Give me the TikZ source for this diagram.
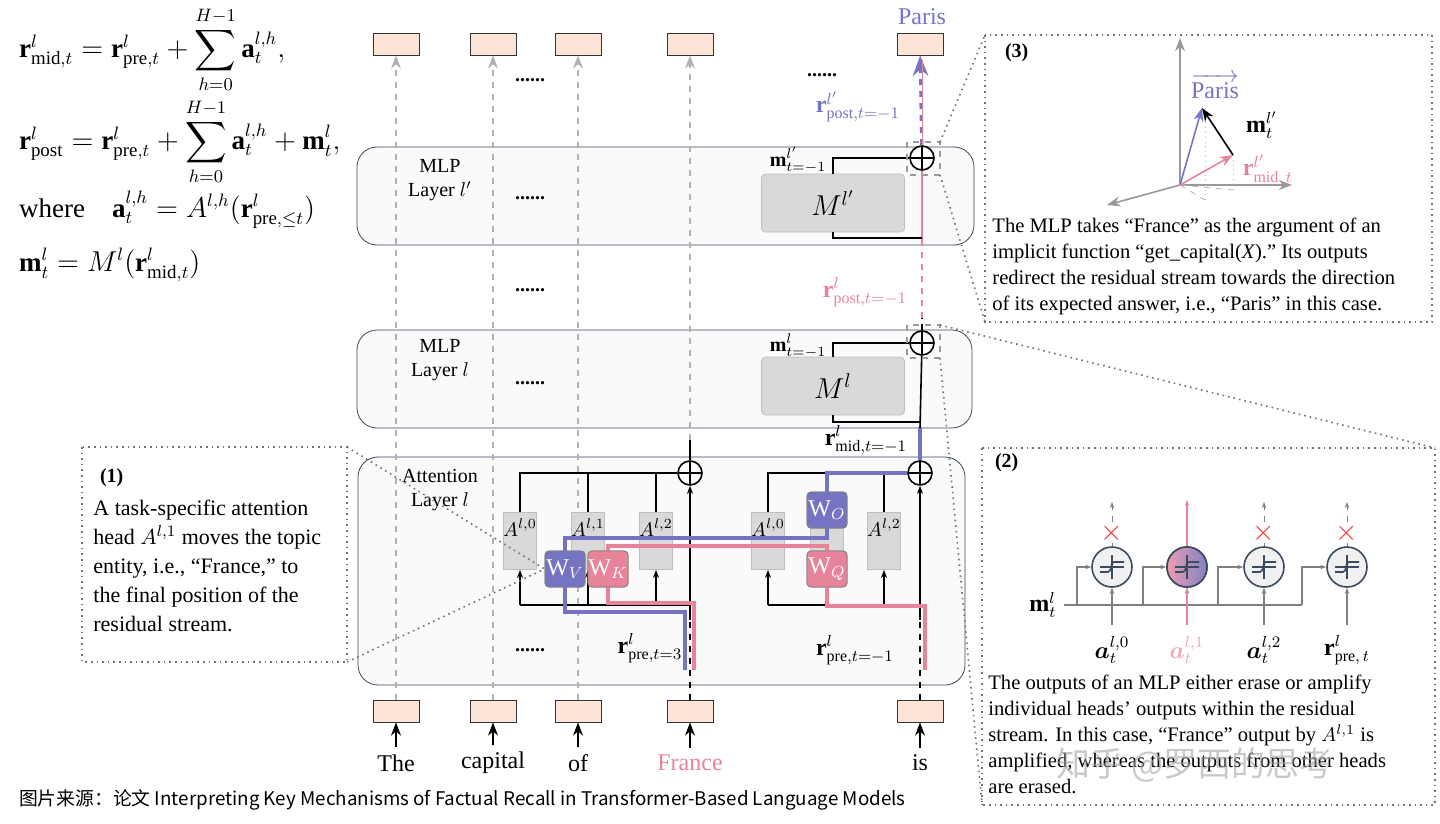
\documentclass[tikz,border=0pt]{standalone}
\usepackage{amsmath}
\usepackage{bm}
\usepackage{fontspec}
\setmainfont{Liberation Serif}
\newfontfamily\cjk{Noto Sans CJK SC}
\usepackage{tikz}
\usetikzlibrary{positioning,calc,arrows.meta}
\definecolor{vio}{HTML}{7474C2}
\definecolor{pnk}{HTML}{E8849A}
\definecolor{tok}{HTML}{FCE4D6}
\definecolor{edge}{HTML}{3C4A60}
\tikzstyle{token}=[rectangle, draw=black!80, fill=tok, minimum width=23pt, minimum height=11pt, inner sep=0pt]
\tikzstyle{layer}=[draw=edge, fill=black!2, rounded corners=10pt]
\tikzstyle{head}=[rectangle, draw=black!25, fill=black!15, minimum width=16.5pt, minimum height=28.5pt, inner sep=0pt, anchor=center]
\tikzstyle{wbox}=[rectangle, rounded corners=2pt, draw=black!50, minimum width=20pt, minimum height=18pt, inner sep=0pt, text=white, font=\large]
\tikzstyle{mbox}=[rectangle, rounded corners=2pt, draw=black!25, fill=black!15, minimum width=71.5pt, minimum height=29pt]
\tikzstyle{plus}=[circle, draw, thick, minimum size=12pt, inner sep=0pt, fill=white,
  path picture={\draw[thick] (path picture bounding box.north)--(path picture bounding box.south)
    (path picture bounding box.west)--(path picture bounding box.east);}]
\tikzstyle{sig}=[circle, draw=edge, thick, fill=black!6, minimum size=20pt, inner sep=0pt,
  path picture={\draw[edge,thick] ($(path picture bounding box.center)+(-6pt,-2.5pt)$) -- ++(4pt,0)
    .. controls ++(2pt,0) and ++(-2pt,0) .. ++(3pt,5pt) -- ++(5pt,0);
    \draw[edge] ($(path picture bounding box.center)+(0,-6pt)$) -- ++(0,12pt)
    ($(path picture bounding box.center)+(-6pt,0)$) -- ++(12pt,0);}]
\tikzstyle{gdash}=[black!30, thick, dashed]
\tikzstyle{zoomline}=[black!55, thick, dotted]
\tikzstyle{panel}=[black!55, thick, dotted]
\tikzstyle{ptext}=[align=left, anchor=north west, inner sep=0pt, font=\fontsize{10.3}{13}\selectfont]
\tikzstyle{lab}=[font=\large]
\tikzstyle{eq}=[anchor=west, font=\fontsize{13.5}{16}\selectfont]
\begin{document}
\begin{tikzpicture}[x=0.5pt, y=-0.5pt]
\useasboundingbox[fill=white] (0,0) rectangle (1440,824);
% formulas
\node[eq] (f1) at (12,50) {$\mathbf{r}^l_{\mathrm{mid},t}=\mathbf{r}^l_{\mathrm{pre},t}+\displaystyle\sum_{h=0}^{H-1}\mathbf{a}_t^{l,h},$};
\node[eq] (f2) at (12,142) {$\mathbf{r}^l_{\mathrm{post}}=\mathbf{r}^l_{\mathrm{pre},t}+\displaystyle\sum_{h=0}^{H-1}\mathbf{a}_t^{l,h}+\mathbf{m}^l_t,$};
\node[eq] (f3) at (12,210) {where\quad $\mathbf{a}_t^{l,h}=A^{l,h}(\mathbf{r}^l_{\mathrm{pre},\leq t})$};
\node[eq] (f4) at (12,265) {$\mathbf{m}^l_t=M^l(\mathbf{r}^l_{\mathrm{mid},t})$};
% layers
\draw[layer] (357,147) rectangle (974,245);
\draw[layer] (357,330) rectangle (972,428);
\draw[layer] (358,457) rectangle (965,685);
\node[align=center] (lp) at (440,180) {MLP\\Layer $l'$};
\node[align=center] (ll) at (440,360) {MLP\\Layer $l$};
\node[align=center] (la) at (440,490) {Attention\\Layer $l$};
\foreach \y in {80,198,290,383,650} \node[font=\bfseries] at (530,\y) {......};
\node[font=\bfseries] (dt) at (822,75) {......};
% tokens
\foreach \x/\w/\n in {396/The/a,493/capital/b,578/of/c,690/France/d,920/is/e}{
  \node[token] (in\n) at (\x,711) {};
  \node[token] (out\n) at (\x,44) {};
  \node[font=\fontsize{12}{14}\selectfont] (w\n) at (\x,763) {\w};
  \draw[-{Stealth}, thick] (w\n) -- (in\n);
}
\node[font=\fontsize{12}{14}\selectfont, text=vio] (paris) at (922,17) {Paris};
\path (wd) node[fill=white, font=\fontsize{12}{14}\selectfont, text=pnk] {France};
\foreach \n in {a,b,c} \draw[gdash, -{Stealth}] (in\n) -- (out\n);
% attention heads
\node[plus] (pa) at (690,473) {};
\node[plus] (pb) at (920,473) {};
\coordinate (bl) at (690,605);
\coordinate (br) at (920,605);
\foreach \x/\k/\n in {520/0/l0,588/1/l1,656/2/l2,768/0/r0,827/1/r1,884/2/r2}
  \node[head] (h\n) at (\x,541) {};
\foreach \n/\k in {l0/0,l1/1,l2/2,r0/0,r2/2}
  \node[anchor=north] at (h\n.north) {$A^{l,\k}$};
\draw[thick] (hl0.north) |- (pa);
\draw[thick] (hr0.north) |- (pb);
\foreach \n in {l1,l2} \draw[thick] (h\n.north) -- (h\n.north |- pa);
\draw[thick] (hr2.north) -- (hr2.north |- pb);
\draw[thick] (hl0.south |- bl) -- (bl);
\draw[thick] (hr0.south |- br) -- (br);
\foreach \n in {l0,l1,l2,r0,r2} \draw[thick, -{Stealth[length=4pt]}] (h\n.south |- bl) -- (h\n.south);
\draw[thick, dashed] (ind) -- (690,620);
\draw[thick, -{Stealth[length=4pt]}] (690,620) -- (pa);
\draw[thick, dashed] (ine) -- (920,620);
\draw[thick, -{Stealth[length=4pt]}] (920,620) -- (pb);
\draw[thick] (pa) -- (690,440);
\draw[gdash, -{Stealth}] (690,440) -- (outd);
% value / key / query / output paths
\node[wbox, fill=vio] (WV) at (565,569) {W$_V$};
\node[wbox, fill=pnk] (WK) at (608,569) {W$_K$};
\node[wbox, fill=vio] (WO) at (827,510) {W$_O$};
\node[wbox, fill=pnk] (WQ) at (827,569) {W$_Q$};
\begin{scope}[line width=2pt]
\draw[vio] (685,670) |- (WV.south |- 0,612) -- (WV.south);
\draw[vio] (WV.north) -- (565,538) -- (827,538) -- (WO.south);
\draw[vio] (WO.north) |- (pb.west);
\draw[vio] (pb.north) -- (920,428);
\draw[pnk] (694,670) |- (WK.south |- 0,603) -- (WK.south);
\draw[pnk] (WK.north) -- (608,546) -- (827,546) -- (WQ.north);
\draw[pnk] (WQ.south) |- (925,606) -- (925,670);
\end{scope}
\node[wbox, fill=vio] at (WV) {W$_V$};
\node[wbox, fill=pnk] at (WK) {W$_K$};
\node[wbox, fill=vio] at (WO) {W$_O$};
\node[wbox, fill=pnk] at (WQ) {W$_Q$};
\node[lab] (rl) at (650,648) {$\mathbf{r}^l_{\mathrm{pre},t=3}$};
\node[lab] (rr) at (855,650) {$\mathbf{r}^l_{\mathrm{pre},t=-1}$};
\node[lab] (rm) at (866,440) {$\mathbf{r}^l_{\mathrm{mid},t=-1}$};
% MLP layer l
\node[mbox] (Ml) at (833,386) {\Large $M^l$};
\node[plus] (pl) at (922,343) {};
\draw[thick] (920,428) -- (pl);
\draw[thick] (920,422) -| (Ml.south);
\draw[thick] (Ml.north) |- (pl);
\node (ml) at (798,346) {$\mathbf{m}^l_{t=-1}$};
\draw[thick, dashed] (pl) -- (922,318);
\draw[pnk, thick, dashed] (922,318) -- (922,245);
\node[lab, text=pnk] (rpl) at (865,292) {$\mathbf{r}^l_{\mathrm{post},t=-1}$};
% MLP layer l'
\node[mbox] (Mp) at (833,203) {\Large $M^{l'}$};
\node[plus] (pp) at (922,158) {};
\draw[pnk, thick] (922,245) -- (pp);
\draw[thick] (922,238) -| (Mp.south);
\draw[thick] (Mp.north) |- (pp);
\node (mp) at (798,160) {$\mathbf{m}^{l'}_{t=-1}$};
\draw[vio, line width=1.6pt, dashed, -{Stealth}] (pp) -- (oute);
\draw[pnk, thin] (pp) -- (922,60);
\node[lab, text=vio] (rpp) at (858,107) {$\mathbf{r}^{l'}_{\mathrm{post},t=-1}$};
% zoom marks
\draw[black!40, thick, dashed] (907,142) rectangle (940,175);
\draw[black!40, thick, dashed] (907,325) rectangle (940,358);
\draw[zoomline] (940,142) -- (985,35);
\draw[zoomline] (940,175) -- (985,322);
\draw[zoomline] (940,325) -- (1435,448);
\draw[zoomline] (940,358) -- (982,805);
\draw[zoomline] (347,447) -- (WV.west);
\draw[zoomline] (347,662) -- (WV.west);
% panel (1)
\draw[panel, fill=white] (82,447) rectangle (347,662);
\node[anchor=west, font=\bfseries] (n1) at (93,478) {(1)};
\node[ptext, font=\fontsize{11}{14.5}\selectfont] (t1) at (93,500) {A task-specific attention\\head $A^{l,1}$ moves the topic\\entity, i.e., ``France,'' to\\the final position of the\\residual stream.};
% panel (3)
\draw[panel] (985,35) rectangle (1432,322);
\node[anchor=west, font=\bfseries] (n3) at (998,53) {(3)};
\coordinate (o) at (1180,185);
\draw[black!40, thick, -{Stealth}] (o) -- (1180,38);
\draw[black!40, thick, -{Stealth}] (o) -- (1292,185);
\draw[black!40, thick, -{Stealth}] (o) -- (1107,205);
\draw[black!30, dotted] (1205,108) -- (1205,200) (1233,155) -- (1233,190);
\draw[black!30, dashed] (o) -- (1205,200) (o) -- (1233,190);
\draw[vio, thick, -{Stealth}] (o) -- (1202,108) coordinate (pv);
\draw[pnk, thick, -{Stealth}] (o) -- (1233,155) coordinate (rv);
\draw[thick, -{Stealth}] (rv) -- (pv);
\node[lab, text=vio] (pl3) at (1215,86) {$\overrightarrow{\text{Paris}}$};
\node[lab] (m3) at (1262,125) {$\mathbf{m}^{l'}_t$};
\node[lab, text=pnk] (r3) at (1268,170) {$\mathbf{r}^{l'}_{\mathrm{mid},\,t}$};
\node[ptext] (t3) at (992,218) {The MLP takes ``France'' as the argument of an\\implicit function ``get\_capital(\textit{X}).'' Its outputs\\redirect the residual stream towards the direction\\of its expected answer, i.e., ``Paris'' in this case.};
% panel (2)
\draw[panel] (982,448) rectangle (1435,805);
\node[anchor=west, font=\bfseries] (n2) at (988,463) {(2)};
\node[lab] (m2) at (1043,605) {$\mathbf{m}^l_t$};
\draw[black!50, thick] (m2) -- (1302,605);
\foreach \x/\b/\n/\l in {1112/1077/c0/{\bm{a}_t^{l,0}},1187/1143/c1/{\color{pnk!70}\bm{a}_t^{l,1}},1264/1218/c2/{\bm{a}_t^{l,2}},1347/1302/c3/{\mathbf{r}^l_{\mathrm{pre},\,t}}}{
  \node[sig] (\n) at (\x,567) {};
  \draw[black!50, thick, -{Stealth[length=3pt]}] (\b,605) |- (\n);
  \node (l\n) at (\x,650) {\large $\l$};
  \draw[black!50, thick, -{Stealth[length=3pt]}] (\x,625) -- (\n);
}
\node[sig, left color=pnk!80, right color=vio!90] at (c1) {};
\draw[pnk, thick] (1187,625) -- (c1);
\draw[pnk, thick, -{Stealth[length=3pt]}] (c1) -- (1187,500);
\foreach \n in {c0,c2,c3}{
  \draw[black!50, dashed, -{Stealth[length=3pt]}] (\n) -- ++(0,-65);
  \node[red!80, font=\Large\bfseries, fill=white, inner sep=0pt] at ($(\n)+(0,-34)$) {$\times$};
}
\node[ptext] (t2) at (988,675) {The outputs of an MLP either erase or amplify\\individual heads' outputs within the residual\\stream. In this case, ``France'' output by $A^{l,1}$ is\\amplified, whereas the outputs from other heads\\are erased.};
% watermark and source
\node[text=black!35, opacity=0.6, font=\cjk\fontsize{17}{20}\selectfont] (wm) at (1195,765) {知乎 @罗西的思考};
\node[anchor=west, font=\cjk\fontsize{9.4}{11}\selectfont] (src) at (12,800) {图片来源：论文 Interpreting Key Mechanisms of Factual Recall in Transformer-Based Language Models};
\end{tikzpicture}
\end{document}
